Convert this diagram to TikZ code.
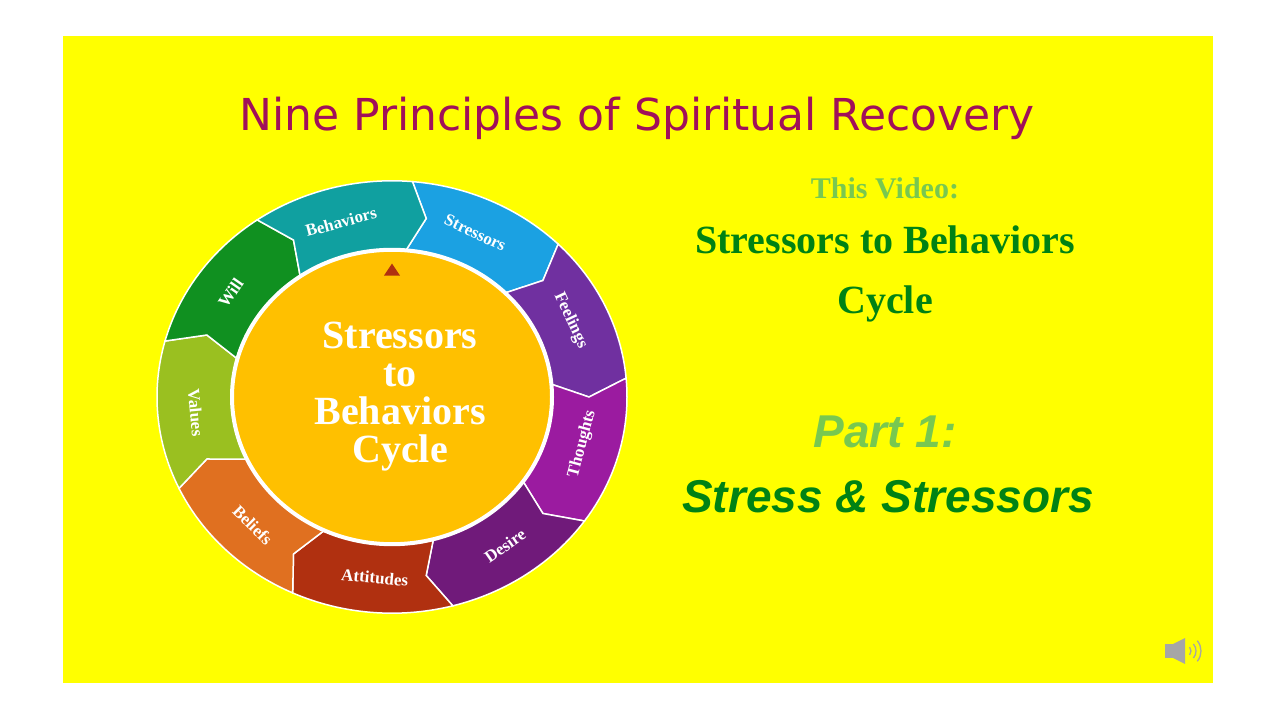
\documentclass[tikz,border=0pt]{standalone}
\usepackage{fontspec}
\setmainfont{Liberation Serif}
\setsansfont{Liberation Sans}
\newfontfamily\titlefont{DejaVu Sans}
\usetikzlibrary{positioning}
\definecolor{bgyellow}{RGB}{255,255,0}
\definecolor{titlepurple}{RGB}{160,16,90}
\definecolor{darkgreen}{RGB}{0,130,20}
\definecolor{lightgreen}{RGB}{120,200,80}
\definecolor{coreorange}{RGB}{255,192,0}
\definecolor{cStress}{RGB}{27,161,226}
\definecolor{cFeel}{RGB}{112,48,160}
\definecolor{cThought}{RGB}{155,27,160}
\definecolor{cDesire}{RGB}{112,26,122}
\definecolor{cAtt}{RGB}{176,48,16}
\definecolor{cBel}{RGB}{224,112,32}
\definecolor{cVal}{RGB}{154,192,32}
\definecolor{cWill}{RGB}{16,144,32}
\definecolor{cBeh}{RGB}{16,160,160}
\tikzset{
    segtext/.style={text=white, font=\bfseries\fontsize{17}{20}\selectfont},
    bigtext/.style={align=center, font=\bfseries\fontsize{40}{40}\selectfont}
}
\begin{document}
\begin{tikzpicture}[x=1pt,y=1pt]
    \useasboundingbox (0,0) rectangle (1280,720);
    \fill[white] (0,0) rectangle (1280,720);
    \fill[bgyellow] (63,37) rectangle (1213,684);
    % Title
    \node[text=titlepurple, font=\titlefont\fontsize{44}{48}\selectfont] (title) at (637,602) {Nine Principles of Spiritual Recovery};
    % Cycle ring
    \begin{scope}[shift={(392,323)}, yscale=0.92]
        \foreach \a/\c in {65/cStress,25/cFeel,-15/cThought,-55/cDesire,-95/cAtt,-135/cBel,-175/cVal,145/cWill,105/cBeh}{
            \filldraw[fill=\c, draw=white, line width=1.5pt]
                (\a+20:235) arc[start angle=\a+20, end angle=\a-20, radius=235]
                -- (\a-25:197) -- (\a-20:160)
                arc[start angle=\a-20, end angle=\a+20, radius=160]
                -- (\a+15:197) -- cycle;
        }
        \filldraw[fill=coreorange, draw=white, line width=4pt] (0,0) circle (160);
        \fill[cAtt] (0,145) -- (-8,132) -- (8,132) -- cycle;
    \end{scope}
    % Ring labels
    \foreach \a/\t/\r in {65/Stressors/-25,25/Feelings/-65,-15/Thoughts/75,-55/Desire/35,-95/Attitudes/-5,-135/Beliefs/-45,-175/Values/-85,145/Will/55,105/Behaviors/15}{
        \node[segtext, rotate=\r] at ({392+197*cos(\a)},{323+0.92*197*sin(\a)}) {\t};
    }
    \node[bigtext, text=white, font=\bfseries\fontsize{40}{38}\selectfont] (core) at (400,323) {Stressors\\to\\Behaviors\\Cycle};
    % Right texts
    \node[text=lightgreen, font=\bfseries\fontsize{30}{34}\selectfont] (video) at (885,532) {This Video:};
    \node[text=darkgreen, font=\bfseries\fontsize{40}{60}\selectfont, align=center] (name) at (885,446) {Stressors to Behaviors\\Cycle};
    \node[text=lightgreen, font=\sffamily\bfseries\itshape\fontsize{46}{50}\selectfont] (part) at (885,288) {Part 1:};
    \node[text=darkgreen, font=\sffamily\bfseries\itshape\fontsize{46}{50}\selectfont] (topic) at (888,223) {Stress \& Stressors};
    % Speaker icon
    \fill[gray!70] (1165,62) rectangle (1173,76);
    \fill[gray!70] (1173,62) -- (1185,56) -- (1185,82) -- (1173,76) -- cycle;
    \foreach \rr in {6,11,16}{
        \draw[gray!70, line width=1.3pt] (1185,69) ++(-40:\rr) arc[start angle=-40, end angle=40, radius=\rr];
    }
\end{tikzpicture}
\end{document}
